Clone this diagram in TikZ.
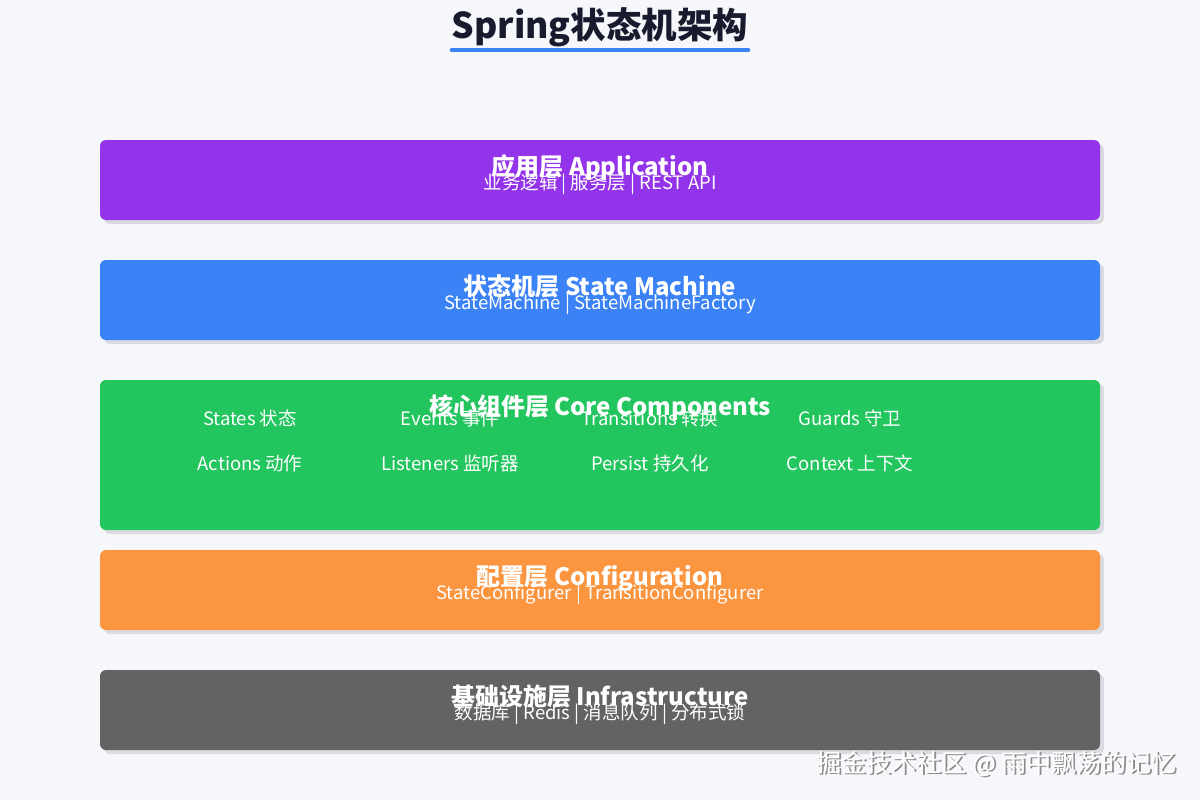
\documentclass[tikz,border=0pt]{standalone}
\usepackage{fontspec}
\setmainfont{Noto Sans CJK SC}
\usetikzlibrary{shadows}
\definecolor{bgcol}{HTML}{F5F7FB}
\definecolor{titlecol}{HTML}{1A1A2E}
\definecolor{linecol}{HTML}{3B82F6}
\definecolor{shadowcol}{HTML}{D9DBE1}
\definecolor{appcol}{HTML}{9333EA}
\definecolor{smcol}{HTML}{3B82F6}
\definecolor{corecol}{HTML}{22C55E}
\definecolor{confcol}{HTML}{FB953F}
\definecolor{infracol}{HTML}{636363}
\begin{document}
\begin{tikzpicture}[x=1pt,y=-1pt,
    layer/.style ={rectangle, rounded corners=6pt, inner sep=0pt,
      minimum width=1000pt, minimum height=80pt,
      drop shadow={shadow xshift=4pt, shadow yshift=-4pt, fill=shadowcol, opacity=1}},
    heading/.style ={anchor=base, inner sep=0pt, text=white, font=\bfseries\fontsize{24}{28}\selectfont},
    subline/.style ={anchor=base, inner sep=0pt, text=white, font=\fontsize{18.5}{22}\selectfont},
    item/.style ={anchor=base, inner sep=0pt, text=white, font=\fontsize{18.5}{22}\selectfont}]
   \useasboundingbox (0,0) rectangle (1200,800);
   \fill[bgcol] (0,0) rectangle (1200,800);

   % title
   \node[anchor=base, inner sep=0pt, text=titlecol, font=\bfseries\fontsize{35.5}{42}\selectfont] (title) at (600,39) {Spring状态机架构};
   \draw[linecol, line width=3.5pt, line cap=round] ([yshift=-11pt]title.base west) -- ([yshift=-11pt]title.base east);

   % layers
   \node[layer, fill=appcol] (app) at (600,180) {};
   \node[layer, fill=smcol] (sm) at (600,300) {};
   \node[layer, fill=corecol, minimum height=150pt] (core) at (600,455) {};
   \node[layer, fill=confcol] (conf) at (600,590) {};
   \node[layer, fill=infracol] (infra) at (600,710) {};

   \node[heading] (appTitle) at ([yshift=-36pt]app.north) {应用层 Application};
   \node[subline] (appSub) at ([yshift=-50pt]app.north) {业务逻辑 | 服务层 | REST API};
   \node[heading] (smTitle) at ([yshift=-36pt]sm.north) {状态机层 State Machine};
   \node[subline] (smSub) at ([yshift=-50pt]sm.north) {StateMachine | StateMachineFactory};

   % core components
   \node[item] (states) at (250,425) {States 状态};
   \node[item] (events) at (450,425) {Events 事件};
   \node[item] (transitions) at (650,425) {Transitions 转换};
   \node[item] (guards) at (850,425) {Guards 守卫};
   \node[item] (actions) at (250,470) {Actions 动作};
   \node[item] (listeners) at (450,470) {Listeners 监听器};
   \node[item] (persist) at (650,470) {Persist 持久化};
   \node[item] (context) at (850,470) {Context 上下文};
   \node[heading] (coreTitle) at ([yshift=-36pt]core.north) {核心组件层 Core Components};

   \node[heading] (confTitle) at ([yshift=-36pt]conf.north) {配置层 Configuration};
   \node[subline] (confSub) at ([yshift=-50pt]conf.north) {StateConfigurer | TransitionConfigurer};
   \node[heading] (infraTitle) at ([yshift=-36pt]infra.north) {基础设施层 Infrastructure};
   \node[subline] (infraSub) at ([yshift=-50pt]infra.north) {数据库 | Redis | 消息队列 | 分布式锁};

   % watermark
   \node[anchor=base east, inner sep=0pt, text=black!45, font=\fontsize{25}{30}\selectfont] (markShade) at (1178.5,773.5) {掘金技术社区 @ 雨中飘荡的记忆};
   \node[anchor=base east, inner sep=0pt, text=white, font=\fontsize{25}{30}\selectfont] (mark) at (1177,772) {掘金技术社区 @ 雨中飘荡的记忆};
 \end{tikzpicture}
\end{document}
